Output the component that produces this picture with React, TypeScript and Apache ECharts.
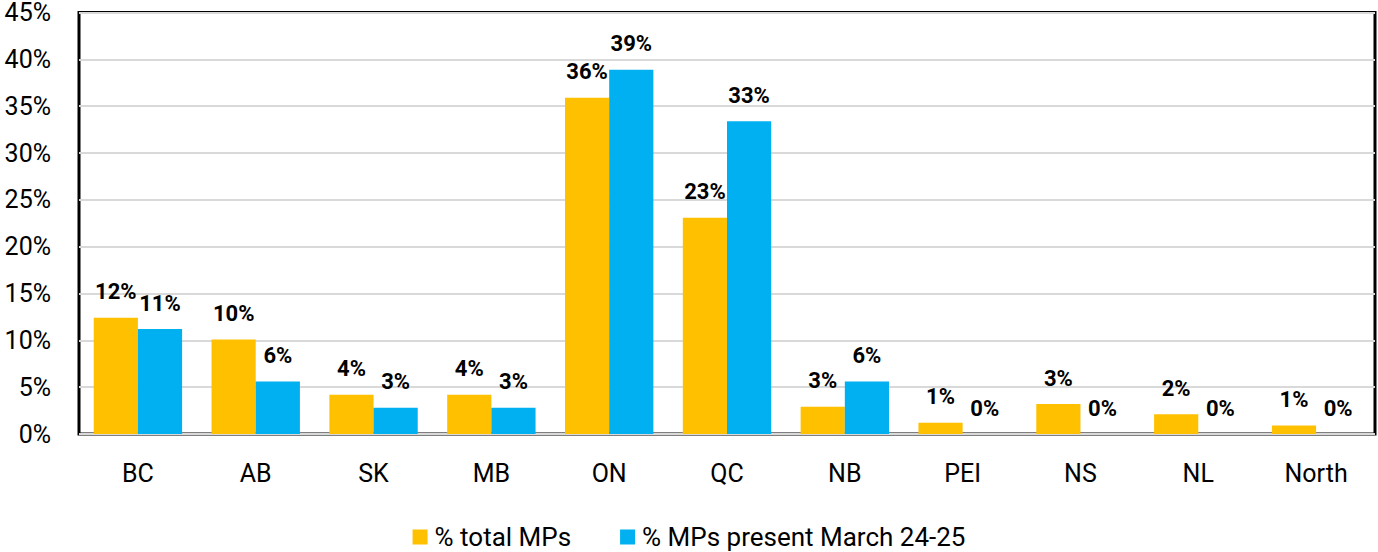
import React, { useEffect, useRef } from 'react';
import * as echarts from 'echarts';

const provinces = ['BC', 'AB', 'SK', 'MB', 'ON', 'QC', 'NB', 'PEI', 'NS', 'NL', 'North'];
const totalMPs = [12.4, 10.1, 4.2, 4.2, 35.9, 23.1, 2.9, 1.2, 3.2, 2.1, 0.9];
const presentMPs = [11.2, 5.6, 2.8, 2.8, 38.9, 33.4, 5.6, 0, 0, 0, 0];
const seriesNames = ['% total MPs', '% MPs present March 24-25'];
const seriesColors = ['#FFC000', '#00B0F0'];

const FONT = 'Roboto, "Noto Sans", sans-serif';

const App: React.FC = () => {
  const chartRef = useRef<HTMLDivElement>(null);

  useEffect(() => {
    document.body.style.margin = '0';
    const chart = echarts.init(chartRef.current!, undefined, { renderer: 'svg' });

    const barLabel = {
      show: true,
      position: 'top',
      distance: 15,
      fontFamily: FONT,
      fontSize: 22,
      fontWeight: 'bold',
      color: '#000',
      formatter: (p: any) => `${Math.round(p.value)}%`,
    };

    const options = {
      animation: false,
      textStyle: { fontFamily: FONT },
      grid: {
        left: 79,
        right: 3,
        top: 12,
        bottom: 118,
        show: true,
        borderColor: '#000',
        borderWidth: 3,
      },
      legend: {
        bottom: -3,
        left: 'center',
        itemWidth: 15,
        itemHeight: 15,
        itemGap: 49,
        icon: 'rect',
        textStyle: { fontFamily: FONT, fontSize: 26, color: '#000', padding: [0, 0, 0, 2] },
        data: seriesNames,
      },
      xAxis: {
        type: 'category',
        data: provinces,
        axisLine: { show: false },
        axisTick: { show: false },
        axisLabel: { fontFamily: FONT, fontSize: 25, color: '#000', margin: 27 },
      },
      yAxis: {
        type: 'value',
        min: 0,
        max: 45,
        interval: 5,
        axisLine: { show: false },
        axisTick: { show: false },
        axisLabel: {
          fontFamily: FONT,
          fontSize: 25,
          color: '#000',
          margin: 28,
          formatter: '{value}%',
        },
        splitLine: { lineStyle: { color: '#D9D9D9', width: 2 } },
      },
      series: [
        {
          name: seriesNames[0],
          type: 'bar',
          data: totalMPs,
          barGap: '0%',
          barCategoryGap: '25%',
          itemStyle: { color: seriesColors[0] },
          label: barLabel,
        },
        {
          name: seriesNames[1],
          type: 'bar',
          data: presentMPs,
          barGap: '0%',
          barCategoryGap: '25%',
          itemStyle: { color: seriesColors[1] },
          label: barLabel,
        },
      ],
    };

    chart.setOption(options as any);

    return () => {
      chart.dispose();
    };
  }, []);

  return <div ref={chartRef} style={{ width: '1378px', height: '552px' }} />;
};

export default App;
